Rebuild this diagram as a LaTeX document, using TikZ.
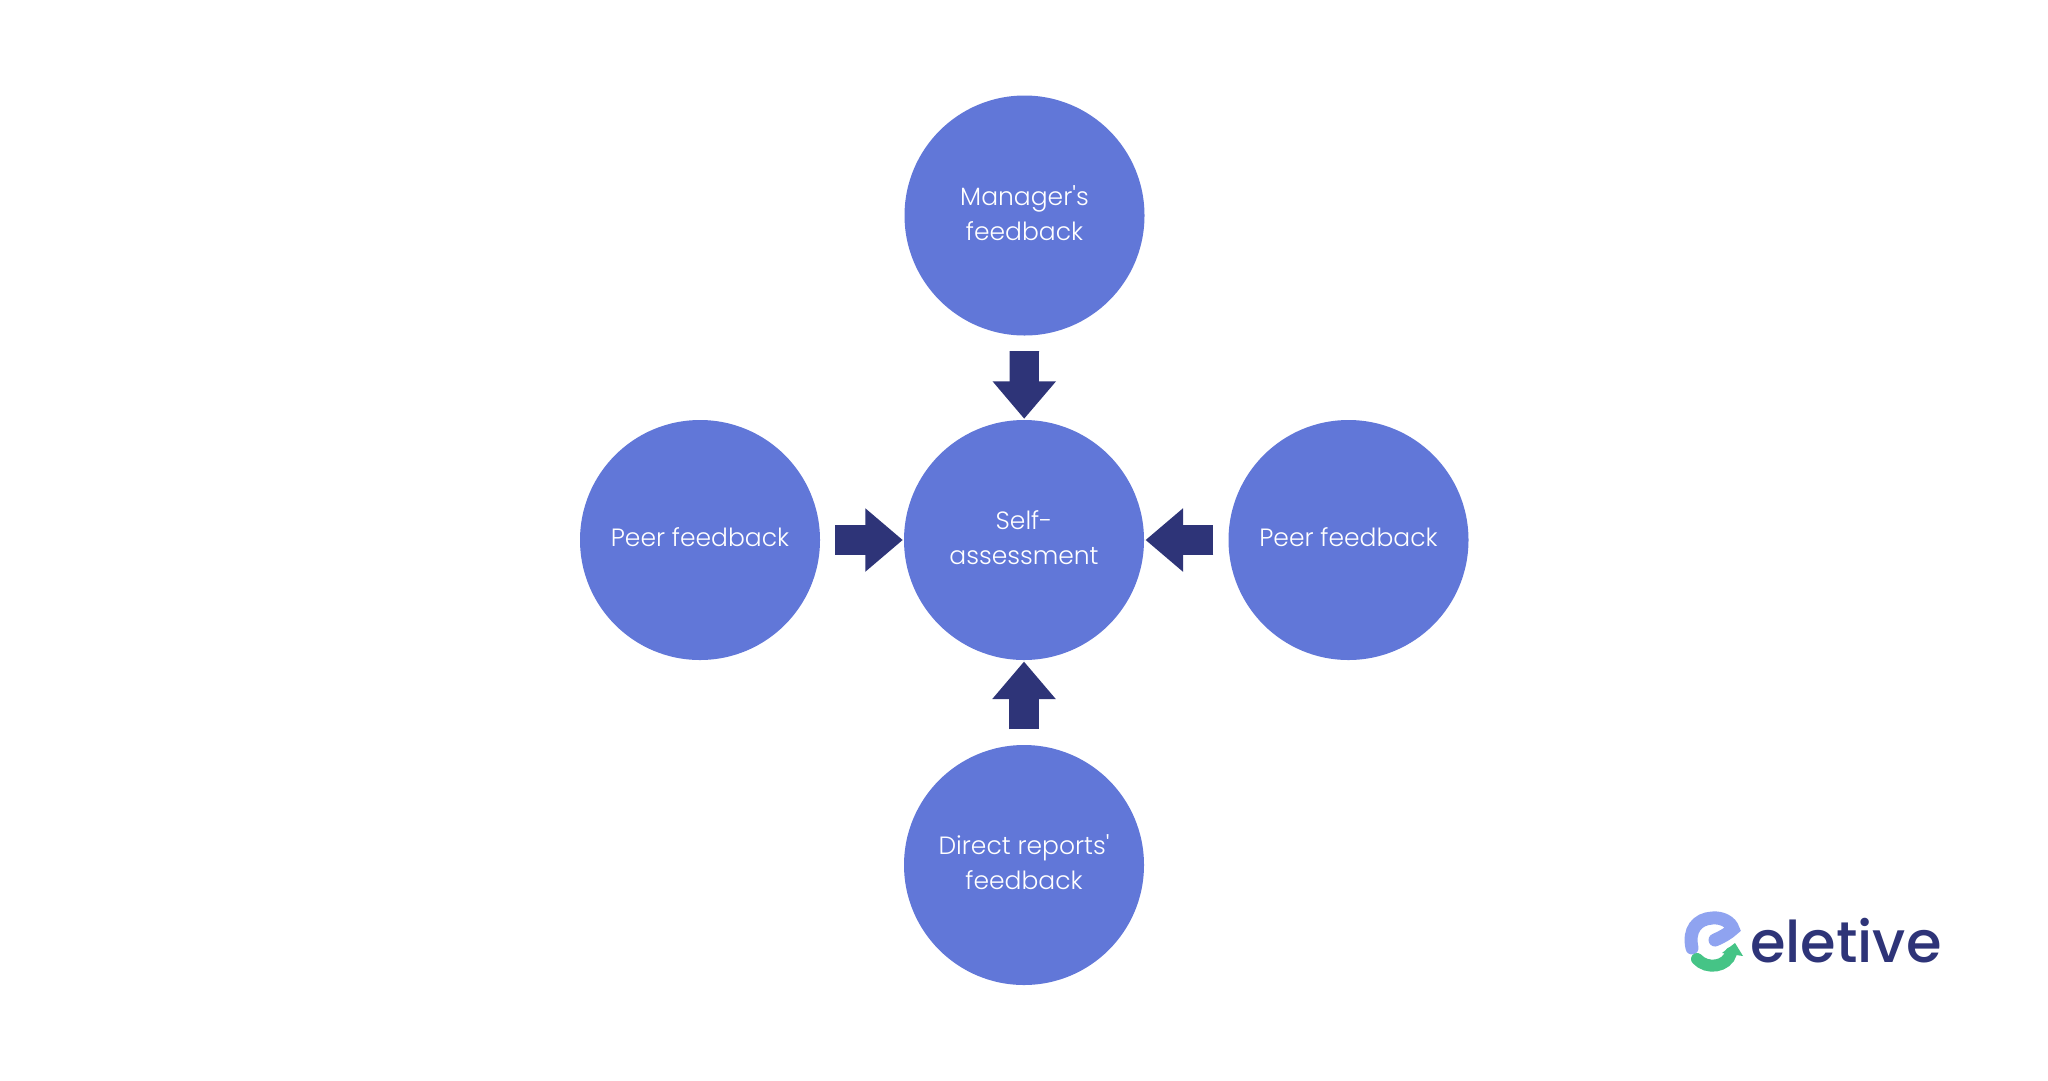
\documentclass[tikz,border=0pt]{standalone}
\usepackage{fontspec}
\setmainfont{Poppins}[UprightFont=* Light,Ligatures=TeXOff]
\newfontfamily\logofont{Poppins}[UprightFont=* Medium]
\usetikzlibrary{arrows.meta}
\definecolor{bubble}{HTML}{6177D8}
\definecolor{navy}{HTML}{2E3478}
\definecolor{logoblue}{HTML}{8FA3F0}
\definecolor{logogreen}{HTML}{45C486}
\tikzset{
  bubble/.style={circle,fill=bubble,minimum size=240pt,inner sep=0pt,text=white,align=center,
    font=\fontsize{25}{35}\selectfont,
    execute at end node={\rule[-5pt]{0pt}{0pt}}},
  blockarrow/.style={draw=navy,line width=29.4pt,
    -{Triangle[length=37.5pt,width=61pt,fill=navy]}},
}
\begin{document}
\begin{tikzpicture}[x=1pt,y=-1pt]
\useasboundingbox (0,0) rectangle (2048,1080);
\fill[white] (0,0) rectangle (2048,1080);
\node[bubble] (self) at (1024,540) {Self-\\assessment};
\node[bubble] (mgr) at (1024.5,215.5) {Manager's\\feedback};
\node[bubble] (peerl) at (700,540) {Peer feedback};
\node[bubble] (peerr) at (1348.5,540) {Peer feedback};
\node[bubble] (dir) at (1024,865) {Direct reports'\\feedback};
\draw[blockarrow,shorten <=15.5pt,shorten >=1pt] (mgr) -- (self);
\draw[blockarrow,shorten <=15pt,shorten >=1pt] (peerl) -- (self);
\draw[blockarrow,shorten <=15pt,shorten >=1.3pt] (peerr) -- (self);
\draw[blockarrow,shorten <=15.5pt,shorten >=1.3pt] (dir) -- (self);
% logo
\draw[logoblue,line width=13pt,line cap=round]
  (1692,948) .. controls (1688,930) and (1697,919) .. (1712,918)
  .. controls (1722,917) and (1731,922) .. (1733,929)
  .. controls (1729,933) and (1722,937) .. (1715,940);
\draw[logogreen,line width=12pt,line cap=round]
  (1697,959) .. controls (1707,970) and (1727,967) .. (1731,953);
\fill[logogreen] (1722,953) -- (1735,943) -- (1743,956) -- cycle;
\node[text=navy,inner sep=0pt,anchor=base west,font=\logofont\fontsize{57.5}{58}\selectfont] (logo) at (1750,962) {eletive};
\end{tikzpicture}
\end{document}
